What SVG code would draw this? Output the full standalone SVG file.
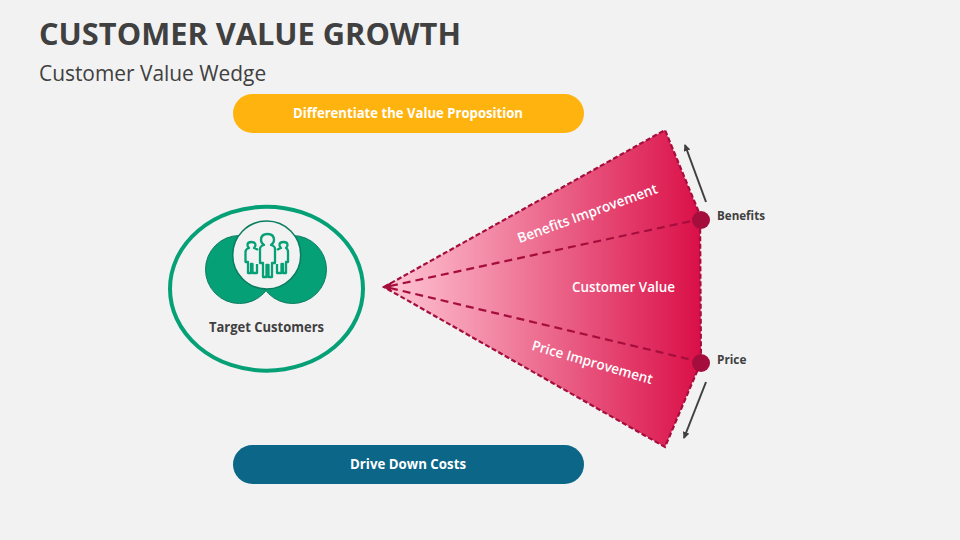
<svg xmlns="http://www.w3.org/2000/svg" width="960" height="540" viewBox="0 0 960 540">
<style>
text{font-family:"Open Sans","Noto Sans","Liberation Sans",sans-serif}
.b{font-weight:700}
.m{font-weight:600}
.edge{fill:none;stroke:#a50e3c;stroke-width:2.2;stroke-dasharray:5 2.5}
.dash{fill:none;stroke:#a50e3c;stroke-width:2.2;stroke-dasharray:8 5}
.dk{fill:#404040}
.w{fill:#fff}
.arr{stroke:#404040;stroke-width:2;fill:none;marker-end:url(#ah)}
.ic{fill:none;stroke:#06a077;stroke-width:2.3;stroke-linejoin:round}
</style>
<defs>
<linearGradient id="g" gradientUnits="userSpaceOnUse" x1="384" y1="0" x2="701" y2="0">
<stop offset="0" stop-color="#ffc8d6"/><stop offset="1" stop-color="#da0f48"/>
</linearGradient>
<marker id="ah" markerWidth="8" markerHeight="8" refX="6" refY="3.5" orient="auto" markerUnits="userSpaceOnUse"><path d="M0,0L7,3.5L0,7z" fill="#404040"/></marker>
</defs>
<rect width="960" height="540" fill="#f2f2f2"/>
<text id="title" class="b dk" x="39" y="45" font-size="31" textLength="422" lengthAdjust="spacingAndGlyphs">CUSTOMER VALUE GROWTH</text>
<text id="subtitle" class="dk" x="39" y="81" font-size="20.9">Customer Value Wedge</text>
<g id="node-differentiate"><rect x="233" y="94" width="351" height="39" rx="19.5" fill="#ffb30f"/><text class="b w" x="293" y="118" font-size="14" textLength="230" lengthAdjust="spacingAndGlyphs">Differentiate the Value Proposition</text></g>
<g id="node-costs"><rect x="233" y="445" width="351" height="39" rx="19.5" fill="#0b6688"/><text class="b w" x="350" y="469" font-size="14" textLength="116" lengthAdjust="spacingAndGlyphs">Drive Down Costs</text></g>
<g id="node-target">
<ellipse cx="266.500" cy="288.700" rx="96.500" ry="82" fill="none" stroke="#06a077" stroke-width="4"/>
<circle cx="239.500" cy="269.500" r="34" fill="#06a077" stroke="#0a7d60" stroke-width="1"/>
<circle cx="292.500" cy="269.500" r="34" fill="#06a077" stroke="#0a7d60" stroke-width="1"/>
<circle cx="266.700" cy="255" r="34" fill="#f2f2f2" stroke="#0a7d60" stroke-width="1.500"/>
<path class="ic" d="M263,277V263H260V249Q260,246 264,245Q261,243 261,240Q261,234 267.500,234Q274,234 274,240Q274,243 271,245Q275,246 275,249V263H272V277H268.500V265H266.500V277Z"/>
<path class="ic" d="M258,250Q257,249 254,248Q255.500,246.500 255.500,245Q255.500,242 251.500,242Q247.500,242 247.500,245Q247.500,246.500 249,248Q245.500,249 245.500,252V262H248V273H251V264H252.500V273H257V264"/>
<path class="ic" d="M277,250Q278,249 281,248Q279.500,246.500 279.500,245Q279.500,242 283.500,242Q287.500,242 287.500,245Q287.500,246.500 286,248Q288,249 288,252V262H286V273H283V264H281.500V273H277V264"/>
<text class="b dk" x="209" y="332" font-size="14" textLength="115" lengthAdjust="spacingAndGlyphs">Target Customers</text>
</g>
<g id="node-wedge">
<path d="M384,287L665,130L700,215L701,362L665,447Z" fill="url(#g)"/>
<text class="m w" x="589" y="218" font-size="14" text-anchor="middle" transform="rotate(-20 589 218)" textLength="148" lengthAdjust="spacingAndGlyphs">Benefits Improvement</text>
<text class="m w" x="623.500" y="292" font-size="14" text-anchor="middle" textLength="103" lengthAdjust="spacingAndGlyphs">Customer Value</text>
<text class="m w" x="591" y="367" font-size="14" text-anchor="middle" transform="rotate(16 591 367)" textLength="125" lengthAdjust="spacingAndGlyphs">Price Improvement</text>
</g>
<g id="connectors">
<path class="edge" d="M384,287L665,130L700,215L701,362L665,447Z"/>
<path class="dash" d="M390,286L701,219"/>
<path class="dash" d="M390,288L701,362"/>
<path d="M383,287L391,282V292Z" fill="#a50e3c"/>
<path class="arr" d="M706,202L685,145"/>
<path class="arr" d="M706,382L684,438"/>
</g>
<g id="node-benefits"><circle cx="701" cy="220" r="9" fill="#a50e3c"/><text class="b dk" x="717" y="220" font-size="11.600">Benefits</text></g>
<g id="node-price"><circle cx="701" cy="363" r="9" fill="#a50e3c"/><text class="b dk" x="717" y="364" font-size="11.800">Price</text></g>
</svg>
